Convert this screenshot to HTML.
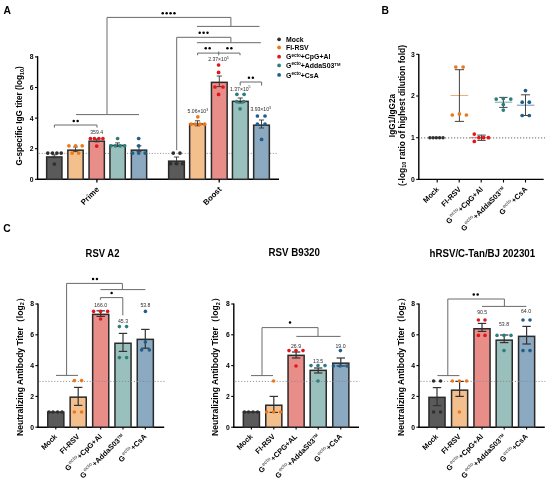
<!DOCTYPE html>
<html><head><meta charset="utf-8"><style>
html,body{margin:0;padding:0;background:#fff;}
body{width:550px;height:485px;overflow:hidden;}
svg{display:block;will-change:transform;}
text{font-family:"Liberation Sans",sans-serif;}
</style></head><body>
<svg width="550" height="485" viewBox="0 0 550 485">
<rect width="550" height="485" fill="#fff"/>
<text x="3.40" y="13.80" font-size="10.3" font-weight="bold" text-anchor="start" fill="#000" >A</text>
<text x="381.40" y="13.90" font-size="10.3" font-weight="bold" text-anchor="start" fill="#000" >B</text>
<text x="3.20" y="232.30" font-size="10.3" font-weight="bold" text-anchor="start" fill="#000" >C</text>
<line x1="37.60" y1="56.20" x2="37.60" y2="180.00" stroke="#000" stroke-width="1.4" />
<line x1="36.90" y1="179.30" x2="279.00" y2="179.30" stroke="#000" stroke-width="1.4" />
<line x1="35.00" y1="179.30" x2="37.60" y2="179.30" stroke="#000" stroke-width="1.1" />
<text x="33.60" y="181.70" font-size="6.8" font-weight="bold" text-anchor="end" fill="#000" >0</text>
<line x1="35.00" y1="148.70" x2="37.60" y2="148.70" stroke="#000" stroke-width="1.1" />
<text x="33.60" y="151.10" font-size="6.8" font-weight="bold" text-anchor="end" fill="#000" >2</text>
<line x1="35.00" y1="118.10" x2="37.60" y2="118.10" stroke="#000" stroke-width="1.1" />
<text x="33.60" y="120.50" font-size="6.8" font-weight="bold" text-anchor="end" fill="#000" >4</text>
<line x1="35.00" y1="87.50" x2="37.60" y2="87.50" stroke="#000" stroke-width="1.1" />
<text x="33.60" y="89.90" font-size="6.8" font-weight="bold" text-anchor="end" fill="#000" >6</text>
<line x1="35.00" y1="56.90" x2="37.60" y2="56.90" stroke="#000" stroke-width="1.1" />
<text x="33.60" y="59.30" font-size="6.8" font-weight="bold" text-anchor="end" fill="#000" >8</text>
<text x="22.4" y="116" font-size="8.2" font-weight="bold" text-anchor="middle" transform="rotate(-90 22.4 116)">G-specific IgG titer (log<tspan font-size="5.4" dy="1.6">10</tspan><tspan dy="-1.6">)</tspan></text>
<line x1="39.00" y1="153.40" x2="278.00" y2="153.40" stroke="#8a8a8a" stroke-width="0.9" stroke-dasharray="1.1 1.65"/>
<rect x="46.65" y="156.95" width="15.30" height="22.35" fill="#5a5a5a" stroke="#2a2a2a" stroke-width="1.5"/>
<rect x="67.85" y="150.15" width="15.30" height="29.15" fill="#F3BF8D" stroke="#2a2a2a" stroke-width="1.5"/>
<rect x="89.05" y="141.15" width="15.30" height="38.15" fill="#E98D89" stroke="#2a2a2a" stroke-width="1.5"/>
<rect x="109.95" y="145.45" width="15.30" height="33.85" fill="#99C0BD" stroke="#2a2a2a" stroke-width="1.5"/>
<rect x="131.35" y="150.15" width="15.30" height="29.15" fill="#8BA9C0" stroke="#2a2a2a" stroke-width="1.5"/>
<rect x="168.65" y="161.15" width="15.70" height="18.15" fill="#5a5a5a" stroke="#2a2a2a" stroke-width="1.5"/>
<rect x="189.65" y="124.05" width="15.70" height="55.25" fill="#F3BF8D" stroke="#2a2a2a" stroke-width="1.5"/>
<rect x="211.45" y="82.35" width="15.70" height="96.95" fill="#E98D89" stroke="#2a2a2a" stroke-width="1.5"/>
<rect x="232.45" y="101.35" width="15.70" height="77.95" fill="#99C0BD" stroke="#2a2a2a" stroke-width="1.5"/>
<rect x="253.65" y="125.15" width="15.70" height="54.15" fill="#8BA9C0" stroke="#2a2a2a" stroke-width="1.5"/>
<line x1="54.30" y1="154.80" x2="54.30" y2="157.60" stroke="#333333" stroke-width="0.9" />
<line x1="51.90" y1="154.80" x2="56.70" y2="154.80" stroke="#333333" stroke-width="0.9" />
<line x1="51.90" y1="157.60" x2="56.70" y2="157.60" stroke="#333333" stroke-width="0.9" />
<line x1="75.50" y1="147.00" x2="75.50" y2="151.60" stroke="#333333" stroke-width="0.9" />
<line x1="73.10" y1="147.00" x2="77.90" y2="147.00" stroke="#333333" stroke-width="0.9" />
<line x1="73.10" y1="151.60" x2="77.90" y2="151.60" stroke="#333333" stroke-width="0.9" />
<line x1="96.70" y1="139.00" x2="96.70" y2="141.80" stroke="#333333" stroke-width="0.9" />
<line x1="94.30" y1="139.00" x2="99.10" y2="139.00" stroke="#333333" stroke-width="0.9" />
<line x1="94.30" y1="141.80" x2="99.10" y2="141.80" stroke="#333333" stroke-width="0.9" />
<line x1="117.60" y1="142.90" x2="117.60" y2="146.50" stroke="#333333" stroke-width="0.9" />
<line x1="115.20" y1="142.90" x2="120.00" y2="142.90" stroke="#333333" stroke-width="0.9" />
<line x1="115.20" y1="146.50" x2="120.00" y2="146.50" stroke="#333333" stroke-width="0.9" />
<line x1="139.00" y1="145.80" x2="139.00" y2="151.60" stroke="#333333" stroke-width="0.9" />
<line x1="136.60" y1="145.80" x2="141.40" y2="145.80" stroke="#333333" stroke-width="0.9" />
<line x1="136.60" y1="151.60" x2="141.40" y2="151.60" stroke="#333333" stroke-width="0.9" />
<line x1="176.50" y1="157.00" x2="176.50" y2="163.50" stroke="#333333" stroke-width="0.9" />
<line x1="173.90" y1="157.00" x2="179.10" y2="157.00" stroke="#333333" stroke-width="0.9" />
<line x1="173.90" y1="163.50" x2="179.10" y2="163.50" stroke="#333333" stroke-width="0.9" />
<line x1="197.50" y1="120.80" x2="197.50" y2="125.80" stroke="#333333" stroke-width="0.9" />
<line x1="194.90" y1="120.80" x2="200.10" y2="120.80" stroke="#333333" stroke-width="0.9" />
<line x1="194.90" y1="125.80" x2="200.10" y2="125.80" stroke="#333333" stroke-width="0.9" />
<line x1="219.30" y1="76.00" x2="219.30" y2="86.60" stroke="#333333" stroke-width="0.9" />
<line x1="216.70" y1="76.00" x2="221.90" y2="76.00" stroke="#333333" stroke-width="0.9" />
<line x1="216.70" y1="86.60" x2="221.90" y2="86.60" stroke="#333333" stroke-width="0.9" />
<line x1="240.30" y1="98.00" x2="240.30" y2="103.00" stroke="#333333" stroke-width="0.9" />
<line x1="237.70" y1="98.00" x2="242.90" y2="98.00" stroke="#333333" stroke-width="0.9" />
<line x1="237.70" y1="103.00" x2="242.90" y2="103.00" stroke="#333333" stroke-width="0.9" />
<line x1="261.50" y1="120.00" x2="261.50" y2="128.00" stroke="#333333" stroke-width="0.9" />
<line x1="258.90" y1="120.00" x2="264.10" y2="120.00" stroke="#333333" stroke-width="0.9" />
<line x1="258.90" y1="128.00" x2="264.10" y2="128.00" stroke="#333333" stroke-width="0.9" />
<circle cx="47.80" cy="153.10" r="1.85" fill="#2f2f2f"/>
<circle cx="52.50" cy="153.10" r="1.85" fill="#2f2f2f"/>
<circle cx="56.90" cy="153.10" r="1.85" fill="#2f2f2f"/>
<circle cx="61.20" cy="153.10" r="1.85" fill="#2f2f2f"/>
<circle cx="54.40" cy="164.00" r="1.85" fill="#2f2f2f"/>
<circle cx="173.30" cy="153.10" r="1.85" fill="#2f2f2f"/>
<circle cx="180.00" cy="153.10" r="1.85" fill="#2f2f2f"/>
<circle cx="170.60" cy="163.70" r="1.85" fill="#2f2f2f"/>
<circle cx="176.60" cy="163.70" r="1.85" fill="#2f2f2f"/>
<circle cx="182.60" cy="163.70" r="1.85" fill="#2f2f2f"/>
<circle cx="68.90" cy="145.80" r="1.85" fill="#EC781B"/>
<circle cx="75.60" cy="145.80" r="1.85" fill="#EC781B"/>
<circle cx="82.20" cy="145.80" r="1.85" fill="#EC781B"/>
<circle cx="72.10" cy="153.10" r="1.85" fill="#EC781B"/>
<circle cx="78.70" cy="153.10" r="1.85" fill="#EC781B"/>
<circle cx="197.80" cy="116.80" r="1.85" fill="#EC781B"/>
<circle cx="191.20" cy="124.20" r="1.85" fill="#EC781B"/>
<circle cx="195.30" cy="124.20" r="1.85" fill="#EC781B"/>
<circle cx="200.00" cy="124.20" r="1.85" fill="#EC781B"/>
<circle cx="204.60" cy="124.20" r="1.85" fill="#EC781B"/>
<circle cx="90.40" cy="138.50" r="1.85" fill="#E1151B"/>
<circle cx="94.40" cy="138.50" r="1.85" fill="#E1151B"/>
<circle cx="98.90" cy="138.50" r="1.85" fill="#E1151B"/>
<circle cx="102.90" cy="138.50" r="1.85" fill="#E1151B"/>
<circle cx="96.70" cy="146.10" r="1.85" fill="#E1151B"/>
<circle cx="218.60" cy="65.00" r="1.85" fill="#E1151B"/>
<circle cx="218.60" cy="72.40" r="1.85" fill="#E1151B"/>
<circle cx="215.00" cy="87.00" r="1.85" fill="#E1151B"/>
<circle cx="223.00" cy="87.00" r="1.85" fill="#E1151B"/>
<circle cx="218.60" cy="94.40" r="1.85" fill="#E1151B"/>
<circle cx="117.60" cy="138.50" r="1.85" fill="#2A7E7B"/>
<circle cx="110.80" cy="145.80" r="1.85" fill="#2A7E7B"/>
<circle cx="115.50" cy="145.80" r="1.85" fill="#2A7E7B"/>
<circle cx="120.10" cy="145.80" r="1.85" fill="#2A7E7B"/>
<circle cx="124.70" cy="145.80" r="1.85" fill="#2A7E7B"/>
<circle cx="236.90" cy="94.30" r="1.85" fill="#2A7E7B"/>
<circle cx="244.10" cy="94.30" r="1.85" fill="#2A7E7B"/>
<circle cx="236.70" cy="101.60" r="1.85" fill="#2A7E7B"/>
<circle cx="243.70" cy="101.60" r="1.85" fill="#2A7E7B"/>
<circle cx="240.10" cy="108.80" r="1.85" fill="#2A7E7B"/>
<circle cx="138.70" cy="138.50" r="1.85" fill="#1D5E8B"/>
<circle cx="138.70" cy="145.80" r="1.85" fill="#1D5E8B"/>
<circle cx="132.60" cy="153.10" r="1.85" fill="#1D5E8B"/>
<circle cx="138.70" cy="153.10" r="1.85" fill="#1D5E8B"/>
<circle cx="145.20" cy="153.10" r="1.85" fill="#1D5E8B"/>
<circle cx="257.40" cy="116.00" r="1.85" fill="#1D5E8B"/>
<circle cx="265.00" cy="116.00" r="1.85" fill="#1D5E8B"/>
<circle cx="257.40" cy="124.00" r="1.85" fill="#1D5E8B"/>
<circle cx="265.00" cy="124.00" r="1.85" fill="#1D5E8B"/>
<circle cx="261.60" cy="139.40" r="1.85" fill="#1D5E8B"/>
<line x1="96.90" y1="179.30" x2="96.90" y2="182.60" stroke="#000" stroke-width="1.3" />
<line x1="219.20" y1="179.30" x2="219.20" y2="182.60" stroke="#000" stroke-width="1.3" />
<text x="99.60" y="190.00" font-size="7.9" font-weight="bold" text-anchor="end" fill="#000" transform="rotate(-45 99.60 190.00)" >Prime</text>
<text x="222.00" y="190.00" font-size="7.9" font-weight="bold" text-anchor="end" fill="#000" transform="rotate(-45 222.00 190.00)" >Boost</text>
<line x1="76.00" y1="114.60" x2="139.00" y2="114.60" stroke="#6a6a6a" stroke-width="1.0" />
<polyline points="107.00,114.60 107.00,17.40 230.90,17.40 230.90,26.40" fill="none" stroke="#6a6a6a" stroke-width="1.0" stroke-linejoin="miter"/>
<line x1="196.90" y1="26.40" x2="259.50" y2="26.40" stroke="#6a6a6a" stroke-width="1.0" />
<circle cx="162.75" cy="13.20" r="1.25" fill="#000"/>
<circle cx="166.65" cy="13.20" r="1.25" fill="#000"/>
<circle cx="170.55" cy="13.20" r="1.25" fill="#000"/>
<circle cx="174.45" cy="13.20" r="1.25" fill="#000"/>
<polyline points="176.70,150.20 176.70,37.30 230.90,37.30 230.90,42.70" fill="none" stroke="#6a6a6a" stroke-width="1.0" stroke-linejoin="miter"/>
<line x1="196.90" y1="42.70" x2="260.90" y2="42.70" stroke="#6a6a6a" stroke-width="1.0" />
<circle cx="199.70" cy="32.70" r="1.25" fill="#000"/>
<circle cx="203.60" cy="32.70" r="1.25" fill="#000"/>
<circle cx="207.50" cy="32.70" r="1.25" fill="#000"/>
<polyline points="197.60,55.30 197.60,53.10 240.00,53.10 240.00,55.30" fill="none" stroke="#6a6a6a" stroke-width="1.0" stroke-linejoin="miter"/>
<line x1="218.70" y1="51.60" x2="218.70" y2="55.30" stroke="#6a6a6a" stroke-width="1.0" />
<circle cx="205.75" cy="48.20" r="1.25" fill="#000"/>
<circle cx="209.65" cy="48.20" r="1.25" fill="#000"/>
<circle cx="227.45" cy="48.20" r="1.25" fill="#000"/>
<circle cx="231.35" cy="48.20" r="1.25" fill="#000"/>
<polyline points="54.40,127.60 54.40,125.00 97.00,125.00 97.00,127.60" fill="none" stroke="#6a6a6a" stroke-width="1.0" stroke-linejoin="miter"/>
<circle cx="73.75" cy="121.00" r="1.25" fill="#000"/>
<circle cx="77.65" cy="121.00" r="1.25" fill="#000"/>
<polyline points="240.20,85.60 240.20,82.00 261.60,82.00 261.60,85.60" fill="none" stroke="#6a6a6a" stroke-width="1.0" stroke-linejoin="miter"/>
<circle cx="248.95" cy="77.80" r="1.25" fill="#000"/>
<circle cx="252.85" cy="77.80" r="1.25" fill="#000"/>
<text x="96.60" y="133.60" font-size="6.0" fill="#2a2a2a" text-anchor="middle" textLength="12.91" lengthAdjust="spacingAndGlyphs">359.4</text>
<text x="187.60" y="113.20" font-size="5.6" fill="#2a2a2a" text-anchor="start" textLength="20.6" lengthAdjust="spacingAndGlyphs">5.06×10<tspan font-size="3.92" dy="-2.3">3</tspan></text>
<text x="208.20" y="60.80" font-size="5.6" fill="#2a2a2a" text-anchor="start" textLength="20.6" lengthAdjust="spacingAndGlyphs">2.37×10<tspan font-size="3.92" dy="-2.3">5</tspan></text>
<text x="230.00" y="90.60" font-size="5.6" fill="#2a2a2a" text-anchor="start" textLength="20.6" lengthAdjust="spacingAndGlyphs">1.37×10<tspan font-size="3.92" dy="-2.3">5</tspan></text>
<text x="250.40" y="111.00" font-size="5.6" fill="#2a2a2a" text-anchor="start" textLength="20.6" lengthAdjust="spacingAndGlyphs">3.93×10<tspan font-size="3.92" dy="-2.3">3</tspan></text>
<circle cx="279.10" cy="39.30" r="1.9" fill="#2f2f2f"/>
<text x="286.00" y="41.90" font-size="6.9" font-weight="bold" text-anchor="start" fill="#000" >Mock</text>
<circle cx="279.10" cy="47.50" r="1.9" fill="#EC781B"/>
<text x="286.00" y="50.10" font-size="6.9" font-weight="bold" text-anchor="start" fill="#000" >FI-RSV</text>
<circle cx="279.10" cy="56.70" r="1.9" fill="#E1151B"/>
<text x="286.00" y="59.30" font-size="6.9" font-weight="bold" text-anchor="start" fill="#000" >G<tspan font-size="4.6" dy="-2.6">ecto</tspan><tspan dy="2.6">+CpG+Al</tspan></text>
<circle cx="279.10" cy="65.40" r="1.9" fill="#2A7E7B"/>
<text x="286.00" y="68.00" font-size="6.9" font-weight="bold" text-anchor="start" fill="#000" >G<tspan font-size="4.6" dy="-2.6">ecto</tspan><tspan dy="2.6">+AddaS03</tspan><tspan font-size="4.2" dy="-2.4">TM</tspan></text>
<circle cx="279.10" cy="74.90" r="1.9" fill="#1D5E8B"/>
<text x="286.00" y="77.50" font-size="6.9" font-weight="bold" text-anchor="start" fill="#000" >G<tspan font-size="4.6" dy="-2.6">ecto</tspan><tspan dy="2.6">+CsA</tspan></text>
<line x1="418.80" y1="54.00" x2="418.80" y2="180.10" stroke="#000" stroke-width="1.4" />
<line x1="418.10" y1="179.40" x2="543.70" y2="179.40" stroke="#000" stroke-width="1.4" />
<line x1="416.20" y1="179.40" x2="418.80" y2="179.40" stroke="#000" stroke-width="1.1" />
<text x="414.80" y="181.80" font-size="6.8" font-weight="bold" text-anchor="end" fill="#000" >0</text>
<line x1="416.20" y1="137.70" x2="418.80" y2="137.70" stroke="#000" stroke-width="1.1" />
<text x="414.80" y="140.10" font-size="6.8" font-weight="bold" text-anchor="end" fill="#000" >1</text>
<line x1="416.20" y1="96.00" x2="418.80" y2="96.00" stroke="#000" stroke-width="1.1" />
<text x="414.80" y="98.40" font-size="6.8" font-weight="bold" text-anchor="end" fill="#000" >2</text>
<line x1="416.20" y1="54.30" x2="418.80" y2="54.30" stroke="#000" stroke-width="1.1" />
<text x="414.80" y="56.70" font-size="6.8" font-weight="bold" text-anchor="end" fill="#000" >3</text>
<text x="395.0" y="115.5" font-size="8.2" font-weight="bold" text-anchor="middle" transform="rotate(-90 395.0 115.5)">IgG1/IgG2a</text>
<text x="404.6" y="115.5" font-size="8.45" font-weight="bold" text-anchor="middle" transform="rotate(-90 404.6 115.5)">(-log<tspan font-size="5.4" dy="1.6">10</tspan><tspan dy="-1.6"> ratio of highest dilution fold)</tspan></text>
<line x1="421.00" y1="137.90" x2="545.00" y2="137.90" stroke="#858585" stroke-width="1.1" stroke-dasharray="1.2 1.8"/>
<line x1="437.20" y1="179.40" x2="437.20" y2="182.50" stroke="#000" stroke-width="1.1" />
<line x1="459.20" y1="179.40" x2="459.20" y2="182.50" stroke="#000" stroke-width="1.1" />
<line x1="481.20" y1="179.40" x2="481.20" y2="182.50" stroke="#000" stroke-width="1.1" />
<line x1="503.50" y1="179.40" x2="503.50" y2="182.50" stroke="#000" stroke-width="1.1" />
<line x1="525.50" y1="179.40" x2="525.50" y2="182.50" stroke="#000" stroke-width="1.1" />
<circle cx="429.90" cy="137.70" r="1.75" fill="#2f2f2f"/>
<circle cx="433.10" cy="137.70" r="1.75" fill="#2f2f2f"/>
<circle cx="436.30" cy="137.70" r="1.75" fill="#2f2f2f"/>
<circle cx="439.60" cy="137.70" r="1.75" fill="#2f2f2f"/>
<circle cx="443.00" cy="137.70" r="1.75" fill="#2f2f2f"/>
<line x1="450.50" y1="95.50" x2="468.20" y2="95.50" stroke="#F2A45E" stroke-width="0.9" />
<line x1="459.40" y1="69.70" x2="459.40" y2="121.40" stroke="#444" stroke-width="1.0" />
<line x1="454.80" y1="69.70" x2="464.00" y2="69.70" stroke="#444" stroke-width="1.0" />
<line x1="454.80" y1="121.40" x2="464.00" y2="121.40" stroke="#444" stroke-width="1.0" />
<circle cx="455.80" cy="67.00" r="1.85" fill="#EC781B"/>
<circle cx="463.10" cy="67.00" r="1.85" fill="#EC781B"/>
<circle cx="452.30" cy="115.00" r="1.85" fill="#EC781B"/>
<circle cx="459.40" cy="113.90" r="1.85" fill="#EC781B"/>
<circle cx="466.40" cy="115.00" r="1.85" fill="#EC781B"/>
<line x1="470.00" y1="137.70" x2="488.50" y2="137.70" stroke="#E8605C" stroke-width="0.9" />
<line x1="481.50" y1="135.10" x2="481.50" y2="140.40" stroke="#444" stroke-width="1.0" />
<line x1="477.30" y1="135.10" x2="485.70" y2="135.10" stroke="#444" stroke-width="1.0" />
<line x1="477.30" y1="140.40" x2="485.70" y2="140.40" stroke="#444" stroke-width="1.0" />
<circle cx="474.30" cy="134.10" r="1.85" fill="#E1151B"/>
<circle cx="474.30" cy="141.40" r="1.85" fill="#E1151B"/>
<circle cx="478.90" cy="137.70" r="1.85" fill="#E1151B"/>
<circle cx="483.60" cy="137.70" r="1.85" fill="#E1151B"/>
<circle cx="488.40" cy="137.70" r="1.85" fill="#E1151B"/>
<line x1="495.00" y1="102.20" x2="512.20" y2="102.20" stroke="#5E9E9B" stroke-width="0.9" />
<line x1="503.40" y1="97.40" x2="503.40" y2="107.40" stroke="#444" stroke-width="1.0" />
<line x1="499.20" y1="97.40" x2="507.60" y2="97.40" stroke="#444" stroke-width="1.0" />
<line x1="499.20" y1="107.40" x2="507.60" y2="107.40" stroke="#444" stroke-width="1.0" />
<circle cx="496.20" cy="99.10" r="1.85" fill="#2A7E7B"/>
<circle cx="503.30" cy="98.60" r="1.85" fill="#2A7E7B"/>
<circle cx="510.80" cy="99.10" r="1.85" fill="#2A7E7B"/>
<circle cx="503.30" cy="104.50" r="1.85" fill="#2A7E7B"/>
<circle cx="503.30" cy="110.10" r="1.85" fill="#2A7E7B"/>
<line x1="516.90" y1="105.20" x2="534.40" y2="105.20" stroke="#5B87AB" stroke-width="0.9" />
<line x1="525.50" y1="94.80" x2="525.50" y2="115.50" stroke="#444" stroke-width="1.0" />
<line x1="520.90" y1="94.80" x2="530.10" y2="94.80" stroke="#444" stroke-width="1.0" />
<line x1="520.90" y1="115.50" x2="530.10" y2="115.50" stroke="#444" stroke-width="1.0" />
<circle cx="525.50" cy="90.60" r="1.85" fill="#1D5E8B"/>
<circle cx="522.20" cy="102.20" r="1.85" fill="#1D5E8B"/>
<circle cx="529.30" cy="102.20" r="1.85" fill="#1D5E8B"/>
<circle cx="522.20" cy="115.50" r="1.85" fill="#1D5E8B"/>
<circle cx="529.30" cy="115.50" r="1.85" fill="#1D5E8B"/>
<text x="439.40" y="189.80" font-size="7.4" font-weight="bold" text-anchor="end" fill="#000" transform="rotate(-45 439.40 189.80)" >Mock</text>
<text x="461.40" y="189.80" font-size="7.4" font-weight="bold" text-anchor="end" fill="#000" transform="rotate(-45 461.40 189.80)" >FI-RSV</text>
<text x="483.40" y="189.80" font-size="7.4" font-weight="bold" text-anchor="end" fill="#000" transform="rotate(-45 483.40 189.80)" >G<tspan font-size="5.2" fill="#707070" dy="-3.4" dx="0.5">ecto</tspan><tspan dy="3.4">+CpG+Al</tspan></text>
<text x="505.70" y="189.80" font-size="7.4" font-weight="bold" text-anchor="end" fill="#000" transform="rotate(-45 505.70 189.80)" >G<tspan font-size="5.2" fill="#707070" dy="-3.4" dx="0.5">ecto</tspan><tspan dy="3.4">+AddaS03</tspan><tspan font-size="4.2" dy="-2.4">TM</tspan></text>
<text x="527.70" y="189.80" font-size="7.4" font-weight="bold" text-anchor="end" fill="#000" transform="rotate(-45 527.70 189.80)" >G<tspan font-size="5.2" fill="#707070" dy="-3.4" dx="0.5">ecto</tspan><tspan dy="3.4">+CsA</tspan></text>
<line x1="38.00" y1="303.40" x2="38.00" y2="427.90" stroke="#000" stroke-width="1.4" />
<line x1="37.30" y1="427.20" x2="164.20" y2="427.20" stroke="#000" stroke-width="1.4" />
<line x1="35.40" y1="427.20" x2="38.00" y2="427.20" stroke="#000" stroke-width="1.1" />
<text x="34.00" y="429.60" font-size="6.8" font-weight="bold" text-anchor="end" fill="#000" >0</text>
<line x1="35.40" y1="396.40" x2="38.00" y2="396.40" stroke="#000" stroke-width="1.1" />
<text x="34.00" y="398.80" font-size="6.8" font-weight="bold" text-anchor="end" fill="#000" >2</text>
<line x1="35.40" y1="365.60" x2="38.00" y2="365.60" stroke="#000" stroke-width="1.1" />
<text x="34.00" y="368.00" font-size="6.8" font-weight="bold" text-anchor="end" fill="#000" >4</text>
<line x1="35.40" y1="334.80" x2="38.00" y2="334.80" stroke="#000" stroke-width="1.1" />
<text x="34.00" y="337.20" font-size="6.8" font-weight="bold" text-anchor="end" fill="#000" >6</text>
<line x1="35.40" y1="304.00" x2="38.00" y2="304.00" stroke="#000" stroke-width="1.1" />
<text x="34.00" y="306.40" font-size="6.8" font-weight="bold" text-anchor="end" fill="#000" >8</text>
<text x="102.50" y="256.90" font-size="10.0" font-weight="bold" text-anchor="middle" fill="#000" textLength="33.8" lengthAdjust="spacingAndGlyphs">RSV A2</text>
<text x="22.70" y="364.6" font-size="8.55" font-weight="bold" text-anchor="middle" transform="rotate(-90 22.70 364.6)">Neutralizing Antibody Titer（log<tspan font-size="5.4" dy="1.6">2</tspan><tspan dy="-1.6">）</tspan></text>
<rect x="47.75" y="412.15" width="16.10" height="15.05" fill="#5a5a5a" stroke="#2a2a2a" stroke-width="1.5"/>
<rect x="70.15" y="397.15" width="16.10" height="30.05" fill="#F3BF8D" stroke="#2a2a2a" stroke-width="1.5"/>
<rect x="92.65" y="314.35" width="16.10" height="112.85" fill="#E98D89" stroke="#2a2a2a" stroke-width="1.5"/>
<rect x="114.95" y="343.25" width="16.10" height="83.95" fill="#99C0BD" stroke="#2a2a2a" stroke-width="1.5"/>
<rect x="137.25" y="339.35" width="16.10" height="87.85" fill="#8BA9C0" stroke="#2a2a2a" stroke-width="1.5"/>
<line x1="39.50" y1="381.40" x2="164.70" y2="381.40" stroke="#8a8a8a" stroke-width="0.95" stroke-dasharray="1.1 1.85"/>
<line x1="78.20" y1="387.40" x2="78.20" y2="405.40" stroke="#333333" stroke-width="1.2" />
<line x1="74.00" y1="387.40" x2="82.40" y2="387.40" stroke="#333333" stroke-width="1.2" />
<line x1="74.00" y1="405.40" x2="82.40" y2="405.40" stroke="#333333" stroke-width="1.2" />
<line x1="100.70" y1="310.80" x2="100.70" y2="316.40" stroke="#333333" stroke-width="1.2" />
<line x1="96.50" y1="310.80" x2="104.90" y2="310.80" stroke="#333333" stroke-width="1.2" />
<line x1="96.50" y1="316.40" x2="104.90" y2="316.40" stroke="#333333" stroke-width="1.2" />
<line x1="123.00" y1="333.40" x2="123.00" y2="351.40" stroke="#333333" stroke-width="1.2" />
<line x1="118.80" y1="333.40" x2="127.20" y2="333.40" stroke="#333333" stroke-width="1.2" />
<line x1="118.80" y1="351.40" x2="127.20" y2="351.40" stroke="#333333" stroke-width="1.2" />
<line x1="145.30" y1="329.40" x2="145.30" y2="348.20" stroke="#333333" stroke-width="1.2" />
<line x1="141.10" y1="329.40" x2="149.50" y2="329.40" stroke="#333333" stroke-width="1.2" />
<line x1="141.10" y1="348.20" x2="149.50" y2="348.20" stroke="#333333" stroke-width="1.2" />
<circle cx="49.00" cy="412.00" r="1.8" fill="#2f2f2f"/>
<circle cx="53.00" cy="412.00" r="1.8" fill="#2f2f2f"/>
<circle cx="57.60" cy="412.00" r="1.8" fill="#2f2f2f"/>
<circle cx="62.00" cy="412.00" r="1.8" fill="#2f2f2f"/>
<circle cx="74.40" cy="380.60" r="1.8" fill="#EC781B"/>
<circle cx="81.60" cy="380.60" r="1.8" fill="#EC781B"/>
<circle cx="74.40" cy="412.00" r="1.8" fill="#EC781B"/>
<circle cx="81.60" cy="412.00" r="1.8" fill="#EC781B"/>
<circle cx="93.60" cy="311.40" r="1.8" fill="#E1151B"/>
<circle cx="100.60" cy="311.40" r="1.8" fill="#E1151B"/>
<circle cx="107.60" cy="311.40" r="1.8" fill="#E1151B"/>
<circle cx="100.60" cy="319.00" r="1.8" fill="#E1151B"/>
<circle cx="119.40" cy="326.60" r="1.8" fill="#2A7E7B"/>
<circle cx="126.60" cy="326.60" r="1.8" fill="#2A7E7B"/>
<circle cx="119.40" cy="357.60" r="1.8" fill="#2A7E7B"/>
<circle cx="126.60" cy="357.60" r="1.8" fill="#2A7E7B"/>
<circle cx="145.40" cy="311.40" r="1.8" fill="#1D5E8B"/>
<circle cx="145.40" cy="342.00" r="1.8" fill="#1D5E8B"/>
<circle cx="141.60" cy="350.00" r="1.8" fill="#1D5E8B"/>
<circle cx="149.40" cy="350.00" r="1.8" fill="#1D5E8B"/>
<line x1="55.80" y1="427.20" x2="55.80" y2="429.60" stroke="#000" stroke-width="1.1" />
<line x1="78.20" y1="427.20" x2="78.20" y2="429.60" stroke="#000" stroke-width="1.1" />
<line x1="100.70" y1="427.20" x2="100.70" y2="429.60" stroke="#000" stroke-width="1.1" />
<line x1="123.00" y1="427.20" x2="123.00" y2="429.60" stroke="#000" stroke-width="1.1" />
<line x1="145.30" y1="427.20" x2="145.30" y2="429.60" stroke="#000" stroke-width="1.1" />
<text x="100.60" y="307.30" font-size="6.0" fill="#2a2a2a" text-anchor="middle" textLength="12.91" lengthAdjust="spacingAndGlyphs">166.0</text>
<text x="123.00" y="323.10" font-size="6.0" fill="#2a2a2a" text-anchor="middle" textLength="10.04" lengthAdjust="spacingAndGlyphs">45.3</text>
<text x="145.40" y="307.30" font-size="6.0" fill="#2a2a2a" text-anchor="middle" textLength="10.04" lengthAdjust="spacingAndGlyphs">53.8</text>
<text x="57.50" y="437.00" font-size="7.4" font-weight="bold" text-anchor="end" fill="#000" transform="rotate(-45 57.50 437.00)" >Mock</text>
<text x="79.90" y="437.00" font-size="7.4" font-weight="bold" text-anchor="end" fill="#000" transform="rotate(-45 79.90 437.00)" >FI-RSV</text>
<text x="102.40" y="437.00" font-size="7.4" font-weight="bold" text-anchor="end" fill="#000" transform="rotate(-45 102.40 437.00)" >G<tspan font-size="5.2" fill="#707070" dy="-3.4" dx="0.5">ecto</tspan><tspan dy="3.4">+CpG+Al</tspan></text>
<text x="124.70" y="437.00" font-size="7.4" font-weight="bold" text-anchor="end" fill="#000" transform="rotate(-45 124.70 437.00)" >G<tspan font-size="5.2" fill="#707070" dy="-3.4" dx="0.5">ecto</tspan><tspan dy="3.4">+AddaS03</tspan><tspan font-size="4.2" dy="-2.4">TM</tspan></text>
<text x="147.00" y="437.00" font-size="7.4" font-weight="bold" text-anchor="end" fill="#000" transform="rotate(-45 147.00 437.00)" >G<tspan font-size="5.2" fill="#707070" dy="-3.4" dx="0.5">ecto</tspan><tspan dy="3.4">+CsA</tspan></text>
<line x1="56.00" y1="375.40" x2="78.00" y2="375.40" stroke="#6a6a6a" stroke-width="1.0" />
<polyline points="66.60,375.40 66.60,283.40 122.40,283.40 122.40,289.60" fill="none" stroke="#6a6a6a" stroke-width="1.0" stroke-linejoin="miter"/>
<line x1="100.40" y1="289.60" x2="145.40" y2="289.60" stroke="#6a6a6a" stroke-width="1.0" />
<circle cx="93.05" cy="279.00" r="1.25" fill="#000"/>
<circle cx="96.95" cy="279.00" r="1.25" fill="#000"/>
<polyline points="100.40,299.80 100.40,297.60 122.80,297.60 122.80,315.40" fill="none" stroke="#6a6a6a" stroke-width="1.0" stroke-linejoin="miter"/>
<circle cx="111.60" cy="293.00" r="1.25" fill="#000"/>
<line x1="233.80" y1="303.40" x2="233.80" y2="427.90" stroke="#000" stroke-width="1.4" />
<line x1="233.10" y1="427.20" x2="359.00" y2="427.20" stroke="#000" stroke-width="1.4" />
<line x1="231.20" y1="427.20" x2="233.80" y2="427.20" stroke="#000" stroke-width="1.1" />
<text x="229.80" y="429.60" font-size="6.8" font-weight="bold" text-anchor="end" fill="#000" >0</text>
<line x1="231.20" y1="396.40" x2="233.80" y2="396.40" stroke="#000" stroke-width="1.1" />
<text x="229.80" y="398.80" font-size="6.8" font-weight="bold" text-anchor="end" fill="#000" >2</text>
<line x1="231.20" y1="365.60" x2="233.80" y2="365.60" stroke="#000" stroke-width="1.1" />
<text x="229.80" y="368.00" font-size="6.8" font-weight="bold" text-anchor="end" fill="#000" >4</text>
<line x1="231.20" y1="334.80" x2="233.80" y2="334.80" stroke="#000" stroke-width="1.1" />
<text x="229.80" y="337.20" font-size="6.8" font-weight="bold" text-anchor="end" fill="#000" >6</text>
<line x1="231.20" y1="304.00" x2="233.80" y2="304.00" stroke="#000" stroke-width="1.1" />
<text x="229.80" y="306.40" font-size="6.8" font-weight="bold" text-anchor="end" fill="#000" >8</text>
<text x="294.25" y="255.60" font-size="10.0" font-weight="bold" text-anchor="middle" fill="#000" textLength="51.3" lengthAdjust="spacingAndGlyphs">RSV B9320</text>
<text x="218.50" y="364.6" font-size="8.55" font-weight="bold" text-anchor="middle" transform="rotate(-90 218.50 364.6)">Neutralizing Antibody Titer（log<tspan font-size="5.4" dy="1.6">2</tspan><tspan dy="-1.6">）</tspan></text>
<rect x="243.35" y="411.95" width="16.10" height="15.25" fill="#5a5a5a" stroke="#2a2a2a" stroke-width="1.5"/>
<rect x="265.75" y="405.25" width="16.10" height="21.95" fill="#F3BF8D" stroke="#2a2a2a" stroke-width="1.5"/>
<rect x="288.05" y="355.35" width="16.10" height="71.85" fill="#E98D89" stroke="#2a2a2a" stroke-width="1.5"/>
<rect x="310.15" y="370.35" width="16.10" height="56.85" fill="#99C0BD" stroke="#2a2a2a" stroke-width="1.5"/>
<rect x="332.75" y="363.15" width="16.10" height="64.05" fill="#8BA9C0" stroke="#2a2a2a" stroke-width="1.5"/>
<line x1="235.30" y1="381.40" x2="359.50" y2="381.40" stroke="#8a8a8a" stroke-width="0.95" stroke-dasharray="1.1 1.85"/>
<line x1="273.80" y1="396.40" x2="273.80" y2="412.40" stroke="#333333" stroke-width="1.2" />
<line x1="269.60" y1="396.40" x2="278.00" y2="396.40" stroke="#333333" stroke-width="1.2" />
<line x1="269.60" y1="412.40" x2="278.00" y2="412.40" stroke="#333333" stroke-width="1.2" />
<line x1="296.10" y1="352.00" x2="296.10" y2="358.00" stroke="#333333" stroke-width="1.2" />
<line x1="291.90" y1="352.00" x2="300.30" y2="352.00" stroke="#333333" stroke-width="1.2" />
<line x1="291.90" y1="358.00" x2="300.30" y2="358.00" stroke="#333333" stroke-width="1.2" />
<line x1="318.20" y1="368.00" x2="318.20" y2="373.00" stroke="#333333" stroke-width="1.2" />
<line x1="314.00" y1="368.00" x2="322.40" y2="368.00" stroke="#333333" stroke-width="1.2" />
<line x1="314.00" y1="373.00" x2="322.40" y2="373.00" stroke="#333333" stroke-width="1.2" />
<line x1="340.80" y1="358.00" x2="340.80" y2="366.00" stroke="#333333" stroke-width="1.2" />
<line x1="336.60" y1="358.00" x2="345.00" y2="358.00" stroke="#333333" stroke-width="1.2" />
<line x1="336.60" y1="366.00" x2="345.00" y2="366.00" stroke="#333333" stroke-width="1.2" />
<circle cx="244.40" cy="412.00" r="1.8" fill="#2f2f2f"/>
<circle cx="248.60" cy="412.00" r="1.8" fill="#2f2f2f"/>
<circle cx="253.00" cy="412.00" r="1.8" fill="#2f2f2f"/>
<circle cx="257.60" cy="412.00" r="1.8" fill="#2f2f2f"/>
<circle cx="273.60" cy="381.00" r="1.8" fill="#EC781B"/>
<circle cx="266.60" cy="412.00" r="1.8" fill="#EC781B"/>
<circle cx="273.60" cy="412.00" r="1.8" fill="#EC781B"/>
<circle cx="280.60" cy="412.00" r="1.8" fill="#EC781B"/>
<circle cx="289.00" cy="350.60" r="1.8" fill="#E1151B"/>
<circle cx="296.00" cy="350.60" r="1.8" fill="#E1151B"/>
<circle cx="303.00" cy="350.60" r="1.8" fill="#E1151B"/>
<circle cx="296.00" cy="366.00" r="1.8" fill="#E1151B"/>
<circle cx="311.00" cy="365.60" r="1.8" fill="#2A7E7B"/>
<circle cx="318.00" cy="365.60" r="1.8" fill="#2A7E7B"/>
<circle cx="325.00" cy="365.60" r="1.8" fill="#2A7E7B"/>
<circle cx="318.00" cy="381.00" r="1.8" fill="#2A7E7B"/>
<circle cx="340.40" cy="350.60" r="1.8" fill="#1D5E8B"/>
<circle cx="333.40" cy="366.00" r="1.8" fill="#1D5E8B"/>
<circle cx="340.00" cy="366.00" r="1.8" fill="#1D5E8B"/>
<circle cx="347.00" cy="366.00" r="1.8" fill="#1D5E8B"/>
<line x1="251.40" y1="427.20" x2="251.40" y2="429.60" stroke="#000" stroke-width="1.1" />
<line x1="273.80" y1="427.20" x2="273.80" y2="429.60" stroke="#000" stroke-width="1.1" />
<line x1="296.10" y1="427.20" x2="296.10" y2="429.60" stroke="#000" stroke-width="1.1" />
<line x1="318.20" y1="427.20" x2="318.20" y2="429.60" stroke="#000" stroke-width="1.1" />
<line x1="340.80" y1="427.20" x2="340.80" y2="429.60" stroke="#000" stroke-width="1.1" />
<text x="296.00" y="347.90" font-size="6.0" fill="#2a2a2a" text-anchor="middle" textLength="10.04" lengthAdjust="spacingAndGlyphs">26.9</text>
<text x="318.10" y="362.90" font-size="6.0" fill="#2a2a2a" text-anchor="middle" textLength="10.04" lengthAdjust="spacingAndGlyphs">13.5</text>
<text x="340.50" y="347.90" font-size="6.0" fill="#2a2a2a" text-anchor="middle" textLength="10.04" lengthAdjust="spacingAndGlyphs">19.0</text>
<text x="253.10" y="437.00" font-size="7.4" font-weight="bold" text-anchor="end" fill="#000" transform="rotate(-45 253.10 437.00)" >Mock</text>
<text x="275.50" y="437.00" font-size="7.4" font-weight="bold" text-anchor="end" fill="#000" transform="rotate(-45 275.50 437.00)" >FI-RSV</text>
<text x="297.80" y="437.00" font-size="7.4" font-weight="bold" text-anchor="end" fill="#000" transform="rotate(-45 297.80 437.00)" >G<tspan font-size="5.2" fill="#707070" dy="-3.4" dx="0.5">ecto</tspan><tspan dy="3.4">+CPG+AL</tspan></text>
<text x="319.90" y="437.00" font-size="7.4" font-weight="bold" text-anchor="end" fill="#000" transform="rotate(-45 319.90 437.00)" >G<tspan font-size="5.2" fill="#707070" dy="-3.4" dx="0.5">ecto</tspan><tspan dy="3.4">+AddaS03</tspan><tspan font-size="4.2" dy="-2.4">TM</tspan></text>
<text x="342.50" y="437.00" font-size="7.4" font-weight="bold" text-anchor="end" fill="#000" transform="rotate(-45 342.50 437.00)" >G<tspan font-size="5.2" fill="#707070" dy="-3.4" dx="0.5">ecto</tspan><tspan dy="3.4">+CsA</tspan></text>
<line x1="251.00" y1="375.60" x2="273.00" y2="375.60" stroke="#6a6a6a" stroke-width="1.0" />
<polyline points="262.00,375.60 262.00,327.60 318.00,327.60 318.00,336.40" fill="none" stroke="#6a6a6a" stroke-width="1.0" stroke-linejoin="miter"/>
<line x1="296.40" y1="336.40" x2="340.60" y2="336.40" stroke="#6a6a6a" stroke-width="1.0" />
<circle cx="290.00" cy="322.60" r="1.25" fill="#000"/>
<line x1="419.00" y1="303.40" x2="419.00" y2="427.90" stroke="#000" stroke-width="1.4" />
<line x1="418.30" y1="427.20" x2="544.80" y2="427.20" stroke="#000" stroke-width="1.4" />
<line x1="416.40" y1="427.20" x2="419.00" y2="427.20" stroke="#000" stroke-width="1.1" />
<text x="415.00" y="429.60" font-size="6.8" font-weight="bold" text-anchor="end" fill="#000" >0</text>
<line x1="416.40" y1="396.40" x2="419.00" y2="396.40" stroke="#000" stroke-width="1.1" />
<text x="415.00" y="398.80" font-size="6.8" font-weight="bold" text-anchor="end" fill="#000" >2</text>
<line x1="416.40" y1="365.60" x2="419.00" y2="365.60" stroke="#000" stroke-width="1.1" />
<text x="415.00" y="368.00" font-size="6.8" font-weight="bold" text-anchor="end" fill="#000" >4</text>
<line x1="416.40" y1="334.80" x2="419.00" y2="334.80" stroke="#000" stroke-width="1.1" />
<text x="415.00" y="337.20" font-size="6.8" font-weight="bold" text-anchor="end" fill="#000" >6</text>
<line x1="416.40" y1="304.00" x2="419.00" y2="304.00" stroke="#000" stroke-width="1.1" />
<text x="415.00" y="306.40" font-size="6.8" font-weight="bold" text-anchor="end" fill="#000" >8</text>
<text x="482.30" y="256.90" font-size="10.0" font-weight="bold" text-anchor="middle" fill="#000" textLength="105.6" lengthAdjust="spacingAndGlyphs">hRSV/C-Tan/BJ 202301</text>
<text x="403.70" y="364.6" font-size="8.55" font-weight="bold" text-anchor="middle" transform="rotate(-90 403.70 364.6)">Neutralizing Antibody Titer（log<tspan font-size="5.4" dy="1.6">2</tspan><tspan dy="-1.6">）</tspan></text>
<rect x="428.95" y="397.35" width="16.10" height="29.85" fill="#5a5a5a" stroke="#2a2a2a" stroke-width="1.5"/>
<rect x="451.55" y="390.15" width="16.10" height="37.05" fill="#F3BF8D" stroke="#2a2a2a" stroke-width="1.5"/>
<rect x="473.95" y="328.75" width="16.10" height="98.45" fill="#E98D89" stroke="#2a2a2a" stroke-width="1.5"/>
<rect x="496.15" y="340.15" width="16.10" height="87.05" fill="#99C0BD" stroke="#2a2a2a" stroke-width="1.5"/>
<rect x="518.55" y="336.35" width="16.10" height="90.85" fill="#8BA9C0" stroke="#2a2a2a" stroke-width="1.5"/>
<line x1="420.50" y1="381.40" x2="545.30" y2="381.40" stroke="#8a8a8a" stroke-width="0.95" stroke-dasharray="1.1 1.85"/>
<line x1="437.00" y1="387.60" x2="437.00" y2="405.60" stroke="#333333" stroke-width="1.2" />
<line x1="432.80" y1="387.60" x2="441.20" y2="387.60" stroke="#333333" stroke-width="1.2" />
<line x1="432.80" y1="405.60" x2="441.20" y2="405.60" stroke="#333333" stroke-width="1.2" />
<line x1="459.60" y1="381.40" x2="459.60" y2="396.40" stroke="#333333" stroke-width="1.2" />
<line x1="455.40" y1="381.40" x2="463.80" y2="381.40" stroke="#333333" stroke-width="1.2" />
<line x1="455.40" y1="396.40" x2="463.80" y2="396.40" stroke="#333333" stroke-width="1.2" />
<line x1="482.00" y1="323.40" x2="482.00" y2="331.40" stroke="#333333" stroke-width="1.2" />
<line x1="477.80" y1="323.40" x2="486.20" y2="323.40" stroke="#333333" stroke-width="1.2" />
<line x1="477.80" y1="331.40" x2="486.20" y2="331.40" stroke="#333333" stroke-width="1.2" />
<line x1="504.20" y1="335.00" x2="504.20" y2="342.60" stroke="#333333" stroke-width="1.2" />
<line x1="500.00" y1="335.00" x2="508.40" y2="335.00" stroke="#333333" stroke-width="1.2" />
<line x1="500.00" y1="342.60" x2="508.40" y2="342.60" stroke="#333333" stroke-width="1.2" />
<line x1="526.60" y1="326.40" x2="526.60" y2="344.00" stroke="#333333" stroke-width="1.2" />
<line x1="522.40" y1="326.40" x2="530.80" y2="326.40" stroke="#333333" stroke-width="1.2" />
<line x1="522.40" y1="344.00" x2="530.80" y2="344.00" stroke="#333333" stroke-width="1.2" />
<circle cx="433.60" cy="381.00" r="1.8" fill="#2f2f2f"/>
<circle cx="440.60" cy="381.00" r="1.8" fill="#2f2f2f"/>
<circle cx="433.60" cy="412.00" r="1.8" fill="#2f2f2f"/>
<circle cx="440.60" cy="412.00" r="1.8" fill="#2f2f2f"/>
<circle cx="452.40" cy="381.00" r="1.8" fill="#EC781B"/>
<circle cx="459.40" cy="381.00" r="1.8" fill="#EC781B"/>
<circle cx="466.60" cy="381.00" r="1.8" fill="#EC781B"/>
<circle cx="459.40" cy="412.00" r="1.8" fill="#EC781B"/>
<circle cx="478.40" cy="320.00" r="1.8" fill="#E1151B"/>
<circle cx="485.00" cy="320.00" r="1.8" fill="#E1151B"/>
<circle cx="478.40" cy="335.40" r="1.8" fill="#E1151B"/>
<circle cx="485.00" cy="335.40" r="1.8" fill="#E1151B"/>
<circle cx="497.00" cy="335.40" r="1.8" fill="#2A7E7B"/>
<circle cx="504.00" cy="335.40" r="1.8" fill="#2A7E7B"/>
<circle cx="511.00" cy="335.40" r="1.8" fill="#2A7E7B"/>
<circle cx="504.00" cy="350.60" r="1.8" fill="#2A7E7B"/>
<circle cx="523.00" cy="320.00" r="1.8" fill="#1D5E8B"/>
<circle cx="530.00" cy="320.00" r="1.8" fill="#1D5E8B"/>
<circle cx="523.00" cy="350.60" r="1.8" fill="#1D5E8B"/>
<circle cx="530.00" cy="350.60" r="1.8" fill="#1D5E8B"/>
<line x1="437.00" y1="427.20" x2="437.00" y2="429.60" stroke="#000" stroke-width="1.1" />
<line x1="459.60" y1="427.20" x2="459.60" y2="429.60" stroke="#000" stroke-width="1.1" />
<line x1="482.00" y1="427.20" x2="482.00" y2="429.60" stroke="#000" stroke-width="1.1" />
<line x1="504.20" y1="427.20" x2="504.20" y2="429.60" stroke="#000" stroke-width="1.1" />
<line x1="526.60" y1="427.20" x2="526.60" y2="429.60" stroke="#000" stroke-width="1.1" />
<text x="482.20" y="314.30" font-size="6.0" fill="#2a2a2a" text-anchor="middle" textLength="10.04" lengthAdjust="spacingAndGlyphs">90.5</text>
<text x="504.00" y="325.90" font-size="6.0" fill="#2a2a2a" text-anchor="middle" textLength="10.04" lengthAdjust="spacingAndGlyphs">53.8</text>
<text x="526.00" y="312.70" font-size="6.0" fill="#2a2a2a" text-anchor="middle" textLength="10.04" lengthAdjust="spacingAndGlyphs">64.0</text>
<text x="438.70" y="437.00" font-size="7.4" font-weight="bold" text-anchor="end" fill="#000" transform="rotate(-45 438.70 437.00)" >Mock</text>
<text x="461.30" y="437.00" font-size="7.4" font-weight="bold" text-anchor="end" fill="#000" transform="rotate(-45 461.30 437.00)" >FI-RSV</text>
<text x="483.70" y="437.00" font-size="7.4" font-weight="bold" text-anchor="end" fill="#000" transform="rotate(-45 483.70 437.00)" >G<tspan font-size="5.2" fill="#707070" dy="-3.4" dx="0.5">ecto</tspan><tspan dy="3.4">+CpG+Al</tspan></text>
<text x="505.90" y="437.00" font-size="7.4" font-weight="bold" text-anchor="end" fill="#000" transform="rotate(-45 505.90 437.00)" >G<tspan font-size="5.2" fill="#707070" dy="-3.4" dx="0.5">ecto</tspan><tspan dy="3.4">+AddaS03</tspan><tspan font-size="4.2" dy="-2.4">TM</tspan></text>
<text x="528.30" y="437.00" font-size="7.4" font-weight="bold" text-anchor="end" fill="#000" transform="rotate(-45 528.30 437.00)" >G<tspan font-size="5.2" fill="#707070" dy="-3.4" dx="0.5">ecto</tspan><tspan dy="3.4">+CsA</tspan></text>
<line x1="437.40" y1="375.60" x2="459.40" y2="375.60" stroke="#6a6a6a" stroke-width="1.0" />
<polyline points="447.80,375.60 447.80,299.00 504.40,299.00 504.40,306.40" fill="none" stroke="#6a6a6a" stroke-width="1.0" stroke-linejoin="miter"/>
<line x1="482.00" y1="306.40" x2="526.40" y2="306.40" stroke="#6a6a6a" stroke-width="1.0" />
<circle cx="473.75" cy="294.40" r="1.25" fill="#000"/>
<circle cx="477.65" cy="294.40" r="1.25" fill="#000"/>
</svg>
</body></html>
